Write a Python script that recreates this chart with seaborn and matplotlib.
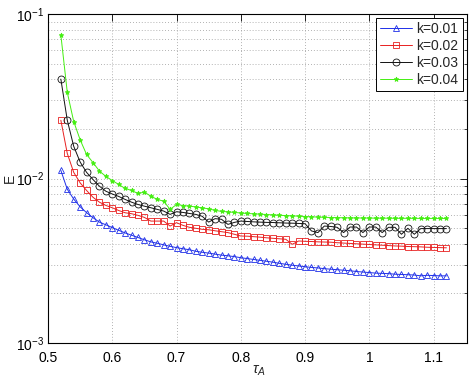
import numpy as np
import pandas as pd
import matplotlib
matplotlib.use("Agg")
import matplotlib.pyplot as plt
import seaborn as sns
from matplotlib.ticker import LogLocator, FixedLocator, FixedFormatter, NullLocator

tau = [0.52, 0.53, 0.54, 0.55, 0.56, 0.57, 0.58, 0.59, 0.60, 0.61,
       0.62, 0.63, 0.64, 0.65, 0.66, 0.67, 0.68, 0.69, 0.70, 0.71,
       0.72, 0.73, 0.74, 0.75, 0.76, 0.77, 0.78, 0.79, 0.80, 0.81,
       0.82, 0.83, 0.84, 0.85, 0.86, 0.87, 0.88, 0.89, 0.90, 0.91,
       0.92, 0.93, 0.94, 0.95, 0.96, 0.97, 0.98, 0.99, 1.00, 1.01,
       1.02, 1.03, 1.04, 1.05, 1.06, 1.07, 1.08, 1.09, 1.10, 1.11, 1.12]

E_k001 = [0.0112, 0.0086, 0.0075, 0.00673, 0.0062, 0.00578, 0.00543, 0.00523, 0.00503, 0.00484,
          0.00467, 0.00452, 0.00438, 0.00424, 0.00412, 0.00404, 0.00395, 0.00387, 0.00380, 0.00374,
          0.00369, 0.00361, 0.00356, 0.00352, 0.00347, 0.00342, 0.00339, 0.00335, 0.00330, 0.00326,
          0.00322, 0.00318, 0.00314, 0.00310, 0.00305, 0.00301, 0.00297, 0.00294, 0.00291, 0.00288,
          0.00286, 0.00283, 0.00281, 0.00279, 0.00277, 0.00275, 0.00272, 0.00270, 0.00268, 0.00266,
          0.00265, 0.00264, 0.00262, 0.00261, 0.00260, 0.00259, 0.00256, 0.00258, 0.00257, 0.00256, 0.00256]

E_k002 = [0.0226, 0.0142, 0.0109, 0.00941, 0.00846, 0.00769, 0.00718, 0.00686, 0.00664, 0.00639,
          0.00619, 0.00611, 0.00597, 0.00580, 0.00551, 0.00551, 0.00551, 0.00514, 0.00539, 0.00519,
          0.00505, 0.00498, 0.00491, 0.00488, 0.00481, 0.00475, 0.00469, 0.00458, 0.00447, 0.00446,
          0.00443, 0.00440, 0.00436, 0.00433, 0.00430, 0.00427, 0.00398, 0.00417, 0.00415, 0.00414,
          0.00412, 0.00411, 0.00410, 0.00407, 0.00405, 0.00403, 0.00401, 0.00399, 0.00397, 0.00395,
          0.00393, 0.00391, 0.00389, 0.00388, 0.00386, 0.00385, 0.00384, 0.00382, 0.00381, 0.00380, 0.00379]

E_k003 = [0.0402, 0.0226, 0.0157, 0.0126, 0.0109, 0.00986, 0.00898, 0.00837, 0.00805, 0.00778,
          0.00746, 0.00718, 0.00695, 0.00679, 0.00664, 0.00649, 0.00634, 0.00605, 0.00628, 0.00622,
          0.00613, 0.00605, 0.00589, 0.00543, 0.00570, 0.00565, 0.00526, 0.00541, 0.00551, 0.00548,
          0.00545, 0.00543, 0.00541, 0.00540, 0.00538, 0.00536, 0.00535, 0.00533, 0.00531, 0.00480,
          0.00469, 0.00514, 0.00511, 0.00505, 0.00469, 0.00507, 0.00507, 0.00469, 0.00507, 0.00507,
          0.00469, 0.00505, 0.00505, 0.00458, 0.00498, 0.00458, 0.00496, 0.00496, 0.00496, 0.00496, 0.00496]

E_k004 = [0.0746, 0.0334, 0.0222, 0.0172, 0.0140, 0.0125, 0.0111, 0.0103, 0.00972, 0.00920,
          0.00870, 0.00846, 0.00811, 0.00826, 0.00781, 0.00746, 0.00728, 0.00649, 0.00695, 0.00685,
          0.00679, 0.00672, 0.00663, 0.00654, 0.00640, 0.00631, 0.00627, 0.00622, 0.00617, 0.00613,
          0.00610, 0.00607, 0.00604, 0.00601, 0.00598, 0.00595, 0.00593, 0.00590, 0.00587, 0.00585,
          0.00583, 0.00581, 0.00579, 0.00578, 0.00577, 0.00576, 0.00576, 0.00575, 0.00575, 0.00574,
          0.00574, 0.00574, 0.00573, 0.00573, 0.00573, 0.00573, 0.00572, 0.00572, 0.00572, 0.00572, 0.00572]

labels = ["k=0.01", "k=0.02", "k=0.03", "k=0.04"]
xticks = [0.5, 0.6, 0.7, 0.8, 0.9, 1.0, 1.1]
xticklabels = ["0.5", "0.6", "0.7", "0.8", "0.9", "1", "1.1"]

sns.set_theme(style="white")
plt.rcParams["font.family"] = ["Liberation Sans", "DejaVu Sans"]
plt.rcParams["mathtext.fontset"] = "custom"
plt.rcParams["mathtext.rm"] = "Liberation Sans"
plt.rcParams["mathtext.it"] = "Liberation Sans:italic"

fig = plt.figure(figsize=(4.74, 3.80), dpi=100)
ax = fig.add_axes([48 / 474, 1 - 343 / 380, (467 - 48) / 474, (343 - 14) / 380])

series = [E_k001, E_k002, E_k003, E_k004]
colors = ["#1f2fe8", "#e82020", "#111111", "#44ee11"]
markers = ["^", "s", "o", "*"]
msizes = [4.5, 4.0, 5.0, 3.5]

for vals, lab, col, mk, ms in zip(series, labels, colors, markers, msizes):
    df = pd.DataFrame({"tau": tau, "E": vals})
    if mk == "*":
        sns.lineplot(data=df, x="tau", y="E", ax=ax, color=col, marker=mk,
                     markersize=ms, mfc=col, mec=col, mew=0.6, lw=0.7, label=lab)
    else:
        sns.lineplot(data=df, x="tau", y="E", ax=ax, color=col, marker=mk,
                     markersize=ms, mfc="none", mec=col, mew=0.6, lw=0.7, label=lab)

ax.set_yscale("log")
ax.set_xlim(0.5, 1.152)
ax.set_ylim(1e-3, 1e-1)
ax.xaxis.set_major_locator(FixedLocator(xticks))
ax.xaxis.set_major_formatter(FixedFormatter(xticklabels))
ax.xaxis.set_minor_locator(NullLocator())
ax.yaxis.set_major_locator(LogLocator(base=10, numticks=5))
ax.yaxis.set_minor_locator(LogLocator(base=10, subs=np.arange(2, 10), numticks=20))

ax.grid(True, which="major", linestyle=(0, (1, 2.5)), color="#999999", lw=0.6)
ax.grid(True, which="minor", axis="y", linestyle=(0, (1, 2.5)), color="#999999", lw=0.6)

ax.tick_params(axis="both", which="both", direction="in", top=True, right=True,
               colors="black", labelsize=10)
ax.tick_params(axis="both", which="major", length=5, width=0.6)
ax.tick_params(axis="x", which="major", pad=6)
ax.tick_params(axis="y", which="major", pad=3)
ax.tick_params(axis="y", which="minor", length=2.5, width=0.5)
for s in ax.spines.values():
    s.set_color("black")
    s.set_linewidth(0.8)

ax.set_xlabel(r"$\tau_A$", fontsize=10.5)
ax.xaxis.set_label_coords((259 - 48) / 419, -(364 - 343) / 329)
ax.set_ylabel("E", fontsize=10)
ax.yaxis.set_label_coords(-(48 - 17) / 419, 0.5)

leg = ax.legend(loc="upper right", fontsize=10, frameon=True, fancybox=False,
                edgecolor="black", framealpha=1, borderaxespad=0.3,
                handlelength=2.3, handletextpad=0.3, labelspacing=0.2,
                borderpad=0.3)
leg.get_frame().set_linewidth(0.7)

fig.savefig("out.png", dpi=100)
